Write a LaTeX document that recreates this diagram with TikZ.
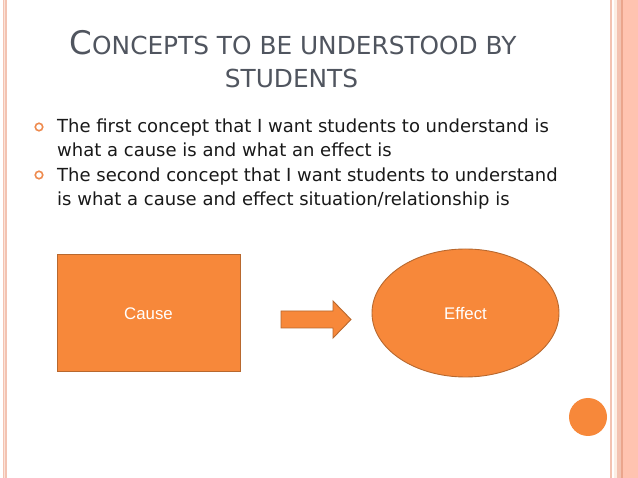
\documentclass[tikz,border=0pt]{standalone}
\usepackage{fontspec}
\usetikzlibrary{shapes.geometric}
\setmainfont{DejaVu Sans}
\newfontfamily\arialfont{Liberation Sans}
\definecolor{orfill}{HTML}{F7883A}
\definecolor{ordraw}{HTML}{B8682E}
\definecolor{titlegray}{HTML}{50555F}
\definecolor{bulletor}{HTML}{EE8A4E}
\definecolor{stripeA}{HTML}{F3C3B2}
\definecolor{stripeB}{HTML}{FBE3D8}
\definecolor{salmon}{HTML}{FFC3B0}
\definecolor{darkstripe}{HTML}{EBA58C}
\definecolor{cream}{HTML}{FCEEE4}
\tikzset{
  shapebox/.style={draw=ordraw, fill=orfill, line width=0.9pt, inner sep=0pt},
  shapelabel/.style={text=white, font=\arialfont\fontsize{16.8}{18}\selectfont},
  bodytext/.style={anchor=base west, inner sep=0pt, text=black!90, font=\fontsize{18}{20}\selectfont},
  bulletring/.style={draw=bulletor, line width=1.6pt, circle, minimum size=7.5pt, inner sep=0pt},
  titletext/.style={inner sep=0pt, text=titlegray, anchor=base},
}
\begin{document}
\begin{tikzpicture}[x=1pt,y=-1pt]
\useasboundingbox (0,0) rectangle (638,478);
\fill[white] (0,0) rectangle (638,478);
% left border stripes
\fill[stripeA] (3,0) rectangle (4.3,478);
\fill[stripeB] (4.3,0) rectangle (5.2,478);
\fill[stripeA] (5.2,0) rectangle (7,478);
% right border stripes
\fill[stripeA] (610,0) rectangle (612,478);
\fill[cream] (614,0) rectangle (617,478);
\fill[stripeA] (617,0) rectangle (620.5,478);
\fill[darkstripe] (620.5,0) rectangle (622.5,478);
\fill[salmon] (622.5,0) rectangle (638,478);
% title
\node[titletext] (t1) at (293,55) {{\fontsize{32.5}{34}\selectfont C}{\fontsize{24.8}{34}\selectfont ONCEPTS TO BE UNDERSTOOD BY}};
\node[titletext] (t2) at (291.5,88) {\fontsize{24.8}{34}\selectfont STUDENTS};
% bullets
\node[bulletring] (b1) at (39,127) {};
\node[bulletring] (b2) at (39,175) {};
\node[bodytext] (l1) at (57,133) {The first concept that I want students to understand is};
\node[bodytext] (l2) at (57,157) {what a cause is and what an effect is};
\node[bodytext] (l3) at (57,182) {The second concept that I want students to understand};
\node[bodytext] (l4) at (57,206) {is what a cause and effect situation/relationship is};
% shapes
\node[shapebox, minimum width=183pt, minimum height=117pt] (cause) at (148.5,312.5) {};
\node[shapelabel] (causet) at (148.5,314) {Cause};
\node[shapebox, ellipse, minimum width=187pt, minimum height=128pt] (effect) at (465.5,313) {};
\node[shapelabel] (effectt) at (465.5,314) {Effect};
\draw[shapebox] (281,311) -- (333,311) -- (333,301) -- (351,319.5) -- (333,338) -- (333,328) -- (281,328) -- cycle;
% page dot
\fill[orfill] (588,417) circle (19);
\end{tikzpicture}
\end{document}
